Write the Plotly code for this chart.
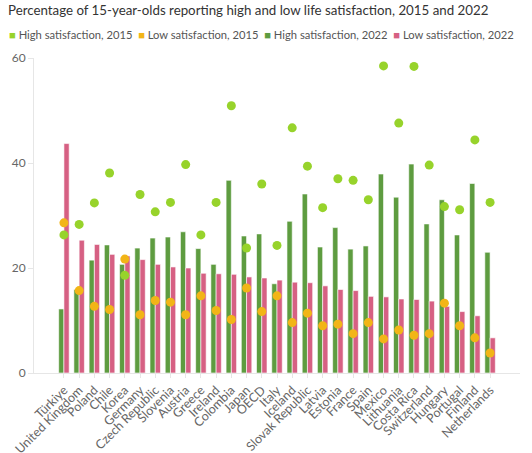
import plotly.graph_objects as go

countries = ["Türkiye", "United Kingdom", "Poland", "Chile", "Korea", "Germany",
             "Czech Republic", "Slovenia", "Austria", "Greece", "Ireland", "Colombia",
             "Japan", "OECD", "Italy", "Iceland", "Slovak Republic", "Latvia", "Estonia",
             "France", "Spain", "Mexico", "Lithuania", "Costa Rica", "Switzerland",
             "Hungary", "Portugal", "Finland", "Netherlands"]

high_2015 = [26.3, 28.3, 32.4, 38.1, 18.6, 34.0, 30.7, 32.5, 39.7, 26.3, 32.5, 50.9,
             23.8, 36.0, 24.3, 46.7, 39.4, 31.5, 37.0, 36.7, 33.0, 58.5, 47.6, 58.4,
             39.6, 31.7, 31.1, 44.4, 32.5]
low_2015 = [28.6, 15.7, 12.7, 12.1, 21.7, 11.1, 13.8, 13.5, 11.1, 14.7, 11.9, 10.2,
            16.2, 11.7, 14.7, 9.6, 11.4, 9.0, 9.3, 7.5, 9.6, 6.5, 8.2, 7.2,
            7.5, 13.3, 9.0, 6.7, 3.8]
high_2022 = [12.2, 15.9, 21.5, 24.4, 20.7, 23.8, 25.7, 25.9, 26.9, 23.7, 20.7, 36.7,
             26.1, 26.5, 17.0, 28.9, 34.1, 24.0, 27.7, 23.6, 24.2, 37.9, 33.5, 39.8,
             28.4, 33.0, 26.3, 36.1, 23.0]
low_2022 = [43.7, 25.3, 24.5, 22.6, 22.3, 21.6, 20.7, 20.2, 20.0, 19.0, 18.9, 18.8,
            18.3, 18.1, 17.7, 17.3, 17.2, 16.6, 15.9, 15.7, 14.6, 14.5, 14.1, 14.0,
            13.7, 12.7, 11.7, 10.9, 6.7]

c_high15 = "#97d32b"
c_low15 = "#f2b517"
c_high22 = "#5e9c40"
c_low22 = "#d66083"

legend_items = [("High satisfaction, 2015", c_high15), ("Low satisfaction, 2015", c_low15),
                ("High satisfaction, 2022", c_high22), ("Low satisfaction, 2022", c_low22)]

fig = go.Figure()

fig.add_trace(go.Bar(x=countries, y=high_2022, name="High satisfaction, 2022",
                     marker=dict(color=c_high22, line=dict(color="rgba(255,255,255,0.6)", width=1))))
fig.add_trace(go.Bar(x=countries, y=low_2022, name="Low satisfaction, 2022",
                     marker=dict(color=c_low22, line=dict(color="rgba(255,255,255,0.6)", width=1))))
fig.add_trace(go.Scatter(x=countries, y=high_2015, mode="markers", name="High satisfaction, 2015",
                         marker=dict(color=c_high15, size=9)))
fig.add_trace(go.Scatter(x=countries, y=low_2015, mode="markers", name="Low satisfaction, 2015",
                         marker=dict(color=c_low15, size=9)))

# compact legend line as one annotation
legend_text = "  ".join('<span style="color:%s">■</span> %s' % (col, nm) for nm, col in legend_items)
fig.add_annotation(text=legend_text, xref="paper", yref="paper", x=-27 / 486, y=1 + 24 / 315,
                   xanchor="left", yanchor="middle", showarrow=False,
                   font=dict(size=11.2, color="#555"))

fig.update_layout(
    width=532, height=453,
    margin=dict(l=34, r=12, t=58, b=80),
    paper_bgcolor="white", plot_bgcolor="white",
    font=dict(family="Lato", size=12, color="#555"),
    barmode="group", bargap=0.31, bargroupgap=0,
    showlegend=False,
    title=dict(text="Percentage of 15-year-olds reporting high and low life satisfaction, 2015 and 2022",
               x=8 / 532, xref="container", xanchor="left",
               y=1 - 10 / 453, yref="container", yanchor="middle",
               font=dict(size=13.3, color="#333")),
)
fig.update_xaxes(tickangle=-45, showline=True, linecolor="#e6e6e6", ticks="outside",
                 ticklen=4, tickcolor="#e6e6e6", tickfont=dict(size=12.5, color="#666"),
                 showgrid=False, automargin=False)
fig.update_yaxes(range=[0, 60], dtick=20, showline=True, linecolor="#e6e6e6",
                 ticks="outside", ticklen=5, tickcolor="#e6e6e6", showgrid=False,
                 zeroline=False, tickfont=dict(size=12, color="#666"), automargin=False)

fig.write_html("out.html", config={"displayModeBar": False},
               post_script="document.body.style.margin='0';")
